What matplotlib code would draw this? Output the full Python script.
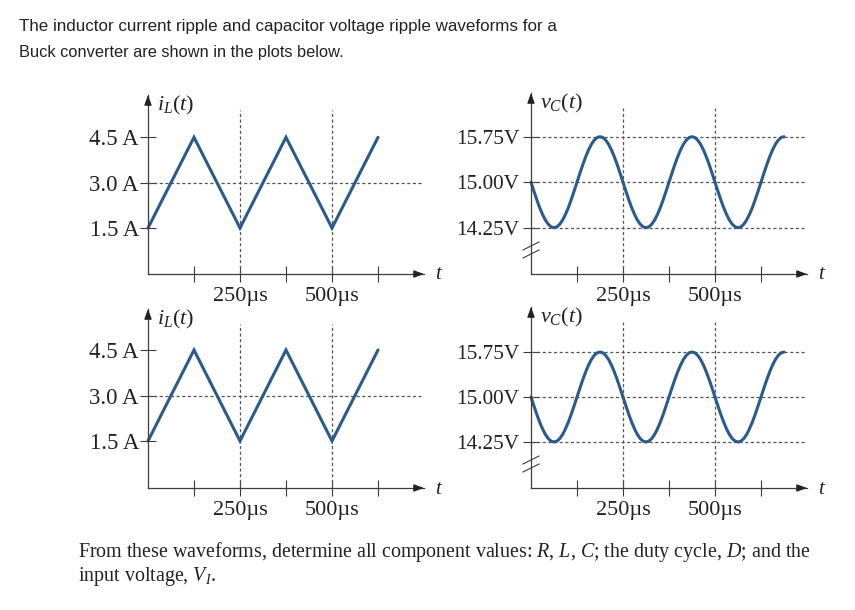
import matplotlib
matplotlib.use("Agg")
import matplotlib.pyplot as plt
from matplotlib.lines import Line2D

plt.rcParams['font.family'] = ['Liberation Serif', 'DejaVu Serif']
plt.rcParams['mathtext.fontset'] = 'custom'
plt.rcParams['mathtext.rm'] = 'Liberation Serif'
plt.rcParams['mathtext.it'] = 'Liberation Serif:italic'

W = 855
H = 610
BLUE = "#2a5a8e"
GREY = "#3c3c3c"

# data, time in us
il_t = [0, 125, 250, 375, 500, 625]
il_v = [1.5, 4.5, 1.5, 4.5, 1.5, 4.5]
il_ticks = [1.5, 3.0, 4.5]
il_labels = ["1.5 A", "3.0 A", "4.5 A"]

vc_v = [15.0, 14.854, 14.713, 14.583, 14.470, 14.376, 14.307, 14.264,
        14.25, 14.264, 14.307, 14.376, 14.470, 14.583, 14.713, 14.854,
        15.0, 15.146, 15.287, 15.417, 15.530, 15.624, 15.693, 15.736,
        15.75, 15.736, 15.693, 15.624, 15.530, 15.417, 15.287, 15.146,
        15.0, 14.854, 14.713, 14.583, 14.470, 14.376, 14.307, 14.264,
        14.25, 14.264, 14.307, 14.376, 14.470, 14.583, 14.713, 14.854,
        15.0, 15.146, 15.287, 15.417, 15.530, 15.624, 15.693, 15.736,
        15.75, 15.736, 15.693, 15.624, 15.530, 15.417, 15.287, 15.146,
        15.0, 14.854, 14.713, 14.583, 14.470, 14.376, 14.307, 14.264,
        14.25, 14.264, 14.307, 14.376, 14.470, 14.583, 14.713, 14.854,
        15.0, 15.146, 15.287, 15.417, 15.530, 15.624, 15.693, 15.736,
        15.75]
vc_t = [i * 7.8125 for i in range(len(vc_v))]
vc_ticks = [14.25, 15.0, 15.75]
vc_labels = ["14.25V", "15.00V", "15.75V"]

time_ticks = [125, 250, 375, 500, 625]
time_labels = ["", "250µs", "", "500µs", ""]

fig = plt.figure(figsize=(W / 100, H / 100), dpi=100, facecolor="white")


def px(x, y):
  return x / W, 1 - y / H


def panel(left, right, top, base, y_low, y_high, t, v, ticks, labels, name, hlines, vtop, size, pad, break_mark=False):
  ax = fig.add_axes([left / W, 1 - base / H, (right - left) / W, (base - top) / H])
  ax.patch.set_alpha(0)
  ax.set_xlim(0, (right - left) / 46.0 * 125)
  per_px = (ticks[-1] - ticks[0]) / (y_low - y_high)
  ax.set_ylim(ticks[0] - (base - y_low) * per_px, ticks[-1] + (y_high - top) * per_px)

  ax.spines["top"].set_visible(False)
  ax.spines["right"].set_visible(False)
  for s in ["left", "bottom"]:
    ax.spines[s].set_linewidth(0.9)
    ax.spines[s].set_color(GREY)

  ax.set_xticks(time_ticks)
  ax.set_xticklabels(time_labels, fontsize=16, color="#222222")
  ax.set_yticks(ticks)
  ax.set_yticklabels(labels, fontsize=size, color="#222222")
  ax.tick_params(axis="both", direction="inout", length=11, width=0.8, color=GREY)
  ax.tick_params(axis="y", pad=pad)
  ax.tick_params(axis="x", pad=3.5)

  y_vtop = ax.get_ylim()[0] + (base - vtop) * per_px
  for tv in [250, 500]:
    ax.plot([tv, tv], [ax.get_ylim()[0], y_vtop], color="#555555", lw=0.9, ls=(0, (2.5, 2)), clip_on=False)
  for hv in hlines:
    ax.plot([0, ax.get_xlim()[1]], [hv, hv], color="#555555", lw=0.9, ls=(0, (2.5, 2)))

  ax.plot(t, v, color=BLUE, lw=2.2, solid_capstyle="round", solid_joinstyle="miter", clip_on=False)

  # axis arrows
  ax.annotate("", xy=(1, 0), xytext=(0.98, 0), xycoords="axes fraction",
              arrowprops=dict(arrowstyle="-|>,head_width=0.22,head_length=0.6", color="#222222", lw=0.9, shrinkA=0, shrinkB=0))
  ax.annotate("", xy=(0, 1), xytext=(0, 0.97), xycoords="axes fraction",
              arrowprops=dict(arrowstyle="-|>,head_width=0.22,head_length=0.6", color="#222222", lw=0.9, shrinkA=0, shrinkB=0))

  x, y = px(left + 9, top + 10)
  fig.text(x, y, name, fontsize=16, ha="left", va="center", color="#222222")
  x, y = px(right + 11, base + 1)
  fig.text(x, y, "$t$", fontsize=15, ha="left", va="center", color="#222222")

  if break_mark:
    for off in [0, 8]:
      x0, y0 = px(left - 8, base - 24 + off)
      x1, y1 = px(left + 8, base - 32 + off)
      fig.add_artist(Line2D([x0, x1], [y0, y1], transform=fig.transFigure, color=GREY, lw=0.8))
  return ax


panel(148, 424, 95, 274, 228, 137.3, il_t, il_v, il_ticks, il_labels, "$i_L(t)$", [3.0], 110, 16.5, 1)
panel(531, 807, 93, 274, 227.7, 136.7, vc_t, vc_v, vc_ticks, vc_labels, "$v_C(t)$", vc_ticks, 108, 15.3, 3, True)
panel(148, 424, 309, 488, 441, 350, il_t, il_v, il_ticks, il_labels, "$i_L(t)$", [3.0], 324, 16.5, 1)
panel(531, 807, 307, 488, 442, 352, vc_t, vc_v, vc_ticks, vc_labels, "$v_C(t)$", vc_ticks, 322, 15.3, 3, True)

x, y = px(19, 26)
fig.text(x, y, "The inductor current ripple and capacitor voltage ripple waveforms for a",
         family="Liberation Sans", fontsize=12.25, va="center", color="#222222")
x, y = px(19, 53)
fig.text(x, y, "Buck converter are shown in the plots below.",
         family="Liberation Sans", fontsize=11.8, va="center", color="#222222")
x, y = px(78, 552)
fig.text(x, y, "From these waveforms, determine all component values: $R$, $L$, $C$; the duty cycle, $D$; and the",
         fontsize=14.4, va="center", color="#222222")
x, y = px(78, 576)
fig.text(x, y, "input voltage, $V_I$.", fontsize=14.4, va="center", color="#222222")

fig.savefig("out.png", dpi=100)
